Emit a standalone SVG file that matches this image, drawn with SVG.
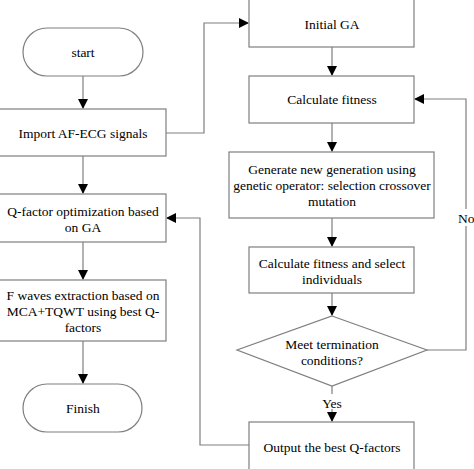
<svg xmlns="http://www.w3.org/2000/svg" width="474" height="469" viewBox="0 0 474 469" font-family="'Liberation Serif', 'Times New Roman', 'DejaVu Serif', serif">
<style>
.box{fill:#fff;stroke:#7f7f7f;stroke-width:1.2}
.ln{fill:none;stroke:#7f7f7f;stroke-width:1.2}
.t{font-size:13.5px;fill:#000;text-anchor:middle}
</style>
<defs>
<marker id="ah" markerWidth="10" markerHeight="10" refX="9" refY="5" orient="auto" markerUnits="userSpaceOnUse">
<path d="M0,0 L10,5 L0,10 z" fill="#000"/>
</marker>
</defs>
<rect width="474" height="469" fill="#fff"/>
<g id="connectors">
<path class="ln" d="M83,76 V108" marker-end="url(#ah)"/>
<path class="ln" d="M166,133 H204 V23 H248" marker-end="url(#ah)"/>
<path class="ln" d="M83,156 V193" marker-end="url(#ah)"/>
<path class="ln" d="M83,242 V279" marker-end="url(#ah)"/>
<path class="ln" d="M83,341 V383" marker-end="url(#ah)"/>
<path class="ln" d="M332,47 V75" marker-end="url(#ah)"/>
<path class="ln" d="M332,123 V151" marker-end="url(#ah)"/>
<path class="ln" d="M332,218 V246" marker-end="url(#ah)"/>
<path class="ln" d="M332,293 V315" marker-end="url(#ah)"/>
<path class="ln" d="M332,386 V421" marker-end="url(#ah)"/>
<path class="ln" d="M427,350 H466 V99 H415" marker-end="url(#ah)"/>
<path class="ln" d="M249,445 H200 V218 H167" marker-end="url(#ah)"/>
<rect x="456" y="209" width="18" height="17" fill="#fff"/>
<text class="t" x="458" y="223" style="text-anchor:start">No</text>
<rect x="319" y="394" width="26" height="15" fill="#fff"/>
<text class="t" x="332" y="408">Yes</text>
</g>
<g id="start">
<rect class="box" x="23" y="28" width="120" height="48" rx="24"/>
<text class="t" x="83" y="57">start</text>
</g>
<g id="import">
<rect class="box" x="-2" y="109" width="168" height="47"/>
<text class="t" x="83" y="138">Import AF-ECG signals</text>
</g>
<g id="qfactor">
<rect class="box" x="-2" y="194" width="168" height="48"/>
<text class="t" x="83" y="216">Q-factor optimization based</text>
<text class="t" x="83" y="232">on GA</text>
</g>
<g id="fwaves">
<rect class="box" x="-2" y="280" width="168" height="61"/>
<text class="t" x="83" y="300">F waves extraction based on</text>
<text class="t" x="83" y="316">MCA+TQWT using best Q-</text>
<text class="t" x="83" y="332">factors</text>
</g>
<g id="finish">
<rect class="box" x="23" y="384" width="119" height="48" rx="24"/>
<text class="t" x="83" y="413">Finish</text>
</g>
<g id="initga">
<rect class="box" x="249" y="-2" width="165" height="49"/>
<text class="t" x="332" y="29">Initial GA</text>
</g>
<g id="calcfit">
<rect class="box" x="249" y="76" width="165" height="47"/>
<text class="t" x="332" y="104">Calculate fitness</text>
</g>
<g id="generate">
<rect class="box" x="229" y="152" width="205" height="66"/>
<text class="t" x="332" y="174">Generate new generation using</text>
<text class="t" x="332" y="190">genetic operator: selection crossover</text>
<text class="t" x="332" y="206">mutation</text>
</g>
<g id="calcsel">
<rect class="box" x="249" y="247" width="165" height="46"/>
<text class="t" x="332" y="268">Calculate fitness and select</text>
<text class="t" x="332" y="284">individuals</text>
</g>
<g id="meet">
<polygon class="box" points="332,316 427,350 332,386 237,350"/>
<text class="t" x="332" y="349">Meet termination</text>
<text class="t" x="332" y="365">conditions?</text>
</g>
<g id="output">
<rect class="box" x="249" y="422" width="165" height="50"/>
<text class="t" x="332" y="452">Output the best Q-factors</text>
</g>
</svg>
